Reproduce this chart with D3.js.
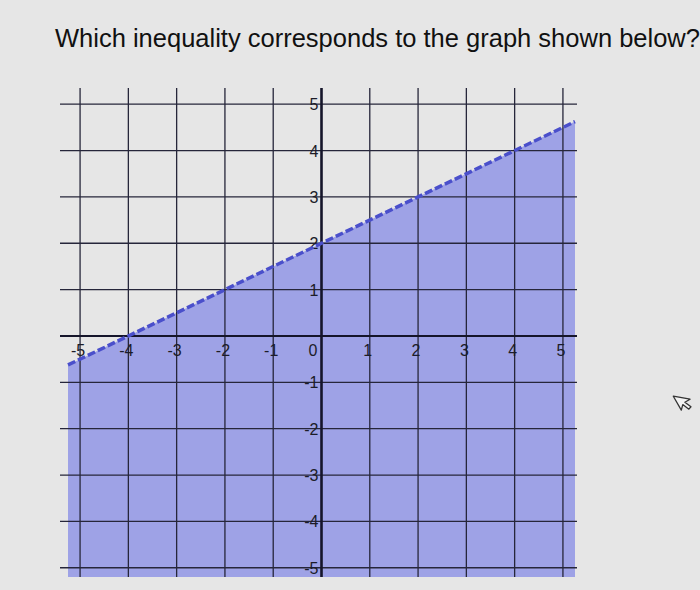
<!DOCTYPE html>
<html>
<head>
<meta charset="utf-8">
<script src="https://cdn.jsdelivr.net/npm/d3@7"></script>
<style>
  body { margin: 0; background: #e6e6e6; }
  svg { display: block; }
  text { font-family: "Liberation Sans", Arial, sans-serif; }
</style>
</head>
<body>
<svg id="chart" width="700" height="590"></svg>
<script>
const title = "Which inequality corresponds to the graph shown below?"

// grid / tick values
const xTicks = [-5, -4, -3, -2, -1, 0, 1, 2, 3, 4, 5]
const yTicks = [-5, -4, -3, -2, -1, 1, 2, 3, 4, 5]

const boundaryX = [-5.25, -4, 0, 5.25]
const boundaryY = [-0.625, 0, 2, 4.625]

const xDomain = [-5.25, 5.25]
const yDomain = [5.35, -5.2]

const svg = d3.select('#chart')

const x = d3.scaleLinear()
            .domain(xDomain)
            .range([68, 575])

const y = d3.scaleLinear()
            .domain(yDomain)
            .range([88, 577])

// title
svg.append('text')
    .attr('x', 55)
    .attr('y', 47)
    .attr('font-size', 25.5)
    .attr('fill', '#111')
    .text(title)

// shaded half-plane (below the line)
let boundary = boundaryX.map((d, i) => ({x: d, y: boundaryY[i]}))

let area = d3.area()
            .x(d => x(d.x))
            .y0(y(yDomain[1]))
            .y1(d => y(d.y))

svg.append('path')
    .datum(boundary)
    .attr('d', area)
    .attr('fill', '#9ea2e6')

// grid lines
let grid = svg.append('g').attr('class', 'grid')

grid.selectAll('line.v')
    .data(xTicks.filter(d => d !== 0))
  .enter().append('line')
    .attr('class', 'v')
    .attr('x1', d => x(d))
    .attr('x2', d => x(d))
    .attr('y1', y(yDomain[0]))
    .attr('y2', y(yDomain[1]))
    .attr('stroke', '#26263a')
    .attr('stroke-width', 1.3)

grid.selectAll('line.h')
    .data(yTicks)
  .enter().append('line')
    .attr('class', 'h')
    .attr('x1', x(xDomain[0]) - 8)
    .attr('x2', x(xDomain[1]) + 2)
    .attr('y1', d => y(d))
    .attr('y2', d => y(d))
    .attr('stroke', '#26263a')
    .attr('stroke-width', 1.3)

// axes
svg.append('line')
    .attr('x1', x(xDomain[0]) - 8)
    .attr('x2', x(xDomain[1]) + 2)
    .attr('y1', y(0))
    .attr('y2', y(0))
    .attr('stroke', '#15152a')
    .attr('stroke-width', 1.8)

svg.append('line')
    .attr('x1', x(0))
    .attr('x2', x(0))
    .attr('y1', y(yDomain[0]))
    .attr('y2', y(yDomain[1]))
    .attr('stroke', '#15152a')
    .attr('stroke-width', 2.6)

// tick labels
svg.selectAll('text.xlab')
    .data(xTicks)
  .enter().append('text')
    .attr('class', 'xlab')
    .attr('x', d => d === 0 ? x(0) - 4 : x(d) - 2)
    .attr('y', y(0) + 20)
    .attr('text-anchor', d => d === 0 ? 'end' : 'middle')
    .attr('font-size', 16)
    .attr('fill', '#1c1c28')
    .text(d => d)

svg.selectAll('text.ylab')
    .data(yTicks)
  .enter().append('text')
    .attr('class', 'ylab')
    .attr('x', x(0) - 3)
    .attr('y', d => y(d) + 6)
    .attr('text-anchor', 'end')
    .attr('font-size', 16)
    .attr('fill', '#1c1c28')
    .text(d => d)

// dashed boundary
let line = d3.line()
            .x(d => x(d.x))
            .y(d => y(d.y))

svg.append('path')
    .datum(boundary)
    .attr('d', line)
    .attr('fill', 'none')
    .attr('stroke', '#4a4fcb')
    .attr('stroke-width', 3.5)
    .attr('stroke-dasharray', '8,3')

// mouse pointer on the right
svg.append('path')
    .attr('d', 'M677,392 L677,408 L681,404 L684,411 L687,410 L684,403 L690,403 Z')
    .attr('fill', '#f2f2f2')
    .attr('stroke', '#333')
    .attr('stroke-width', 1.3)
    .attr('stroke-linejoin', 'round')
    .attr('transform', 'rotate(-30,683,401)')
</script>
</body>
</html>
